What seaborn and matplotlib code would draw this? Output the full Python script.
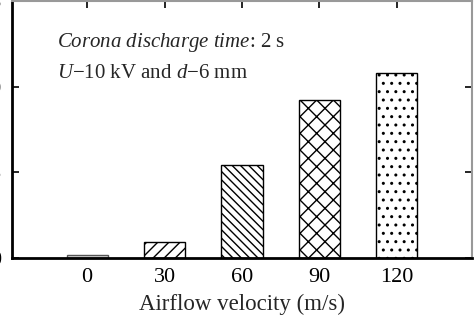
import matplotlib
matplotlib.use("Agg")
import matplotlib.pyplot as plt
import seaborn as sns
import pandas as pd

# Data
velocities = ["0", "30", "60", "90", "120"]
values = [0.17, 0.93, 5.4, 9.2, 10.8]
hatches = ["-----", "///", "\\\\\\\\", "xx", ".."]
y_ticks = [0, 5, 10, 15]
y_ticklabels = ["0", "5", "10", "15"]

sns.set_theme(style="white")
plt.rcParams["font.family"] = ["Liberation Serif", "DejaVu Serif"]
plt.rcParams["mathtext.fontset"] = "custom"
plt.rcParams["mathtext.rm"] = "Liberation Serif"
plt.rcParams["mathtext.it"] = "Liberation Serif:italic"
plt.rcParams["hatch.linewidth"] = 1.0
plt.rcParams["hatch.color"] = "black"

df = pd.DataFrame({"velocity": velocities, "value": values})

fig = plt.figure(figsize=(4.74, 3.25), dpi=100)
ax = fig.add_axes([12 / 474, (325 - 258) / 325, 460 / 474, 257 / 325])

sns.barplot(data=df, x="velocity", y="value", order=velocities, color="white",
            edgecolor="black", linewidth=1.0, width=0.53, ax=ax, saturation=1)

for i, (p, h) in enumerate(zip(ax.patches, hatches)):
    p.set_hatch(h)
    if i == 0:
        p.set_facecolor("#d8d8d8")
        p.set_edgecolor("#555555")

ax.set_xlim(-0.97, 4.97)
ax.set_ylim(0, 15)
ax.set_yticks(y_ticks)
ax.set_yticklabels(y_ticklabels)

ax.set_xlabel("Airflow velocity (m/s)", fontsize=16.5, labelpad=5)
ax.set_ylabel("")

ax.tick_params(axis="x", which="both", bottom=False, top=True, direction="in",
               length=5, width=1.2, labelsize=16, pad=7, colors="black")
ax.tick_params(axis="y", which="both", left=True, right=True, direction="in",
               length=5, width=1.2, labelsize=16, pad=8, colors="black")

for s in ["left", "bottom"]:
    ax.spines[s].set_color("black")
    ax.spines[s].set_linewidth(2.0)
for s in ["top", "right"]:
    ax.spines[s].set_color("#999999")
    ax.spines[s].set_linewidth(1.5)
    ax.spines[s].set_visible(True)

fig.text(57 / 474, 1 - 42 / 325, r"$\it{Corona\ discharge\ time}$: 2 s", fontsize=15,
         va="center", ha="left")
fig.text(57 / 474, 1 - 73 / 325, r"$\it{U}$" + "−10 kV and " + r"$\it{d}$" + "−6 mm",
         fontsize=15, va="center", ha="left")

fig.savefig("out.png", dpi=100)
